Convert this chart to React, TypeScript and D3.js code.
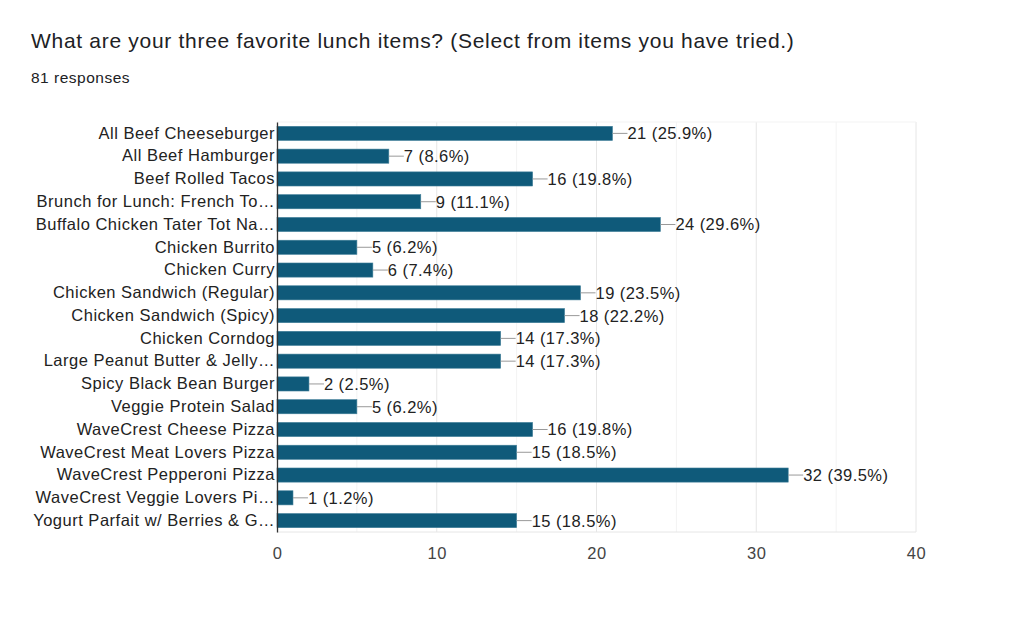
import { useEffect, useRef } from "react";
import * as d3 from "d3";

const categories = [
  "All Beef Cheeseburger",
  "All Beef Hamburger",
  "Beef Rolled Tacos",
  "Brunch for Lunch: French To…",
  "Buffalo Chicken Tater Tot Na…",
  "Chicken Burrito",
  "Chicken Curry",
  "Chicken Sandwich (Regular)",
  "Chicken Sandwich (Spicy)",
  "Chicken Corndog",
  "Large Peanut Butter & Jelly…",
  "Spicy Black Bean Burger",
  "Veggie Protein Salad",
  "WaveCrest Cheese Pizza",
  "WaveCrest Meat Lovers Pizza",
  "WaveCrest Pepperoni Pizza",
  "WaveCrest Veggie Lovers Pi…",
  "Yogurt Parfait w/ Berries & G…",
];
const counts = [21, 7, 16, 9, 24, 5, 6, 19, 18, 14, 14, 2, 5, 16, 15, 32, 1, 15];
const percents = ["25.9%", "8.6%", "19.8%", "11.1%", "29.6%", "6.2%", "7.4%", "23.5%", "22.2%", "17.3%", "17.3%", "2.5%", "6.2%", "19.8%", "18.5%", "39.5%", "1.2%", "18.5%"];
const xTicks = [0, 10, 20, 30, 40];
const minorTicks = [5, 15, 25, 35];
const title = "What are your three favorite lunch items? (Select from items you have tried.)";
const subtitle = "81 responses";

const FONT = "'Liberation Sans', Arial, sans-serif";

export default function App() {
  const ref = useRef<SVGSVGElement>(null);

  useEffect(() => {
    const svg = d3.select(ref.current);
    svg.selectAll("*").remove();

    const margin = { top: 122, right: 108, bottom: 104, left: 277 };
    const width = 1024, height = 636;
    const w = width - margin.left - margin.right;
    const h = height - margin.top - margin.bottom;

    svg.append("rect").attr("width", width).attr("height", height).attr("fill", "#fff");

    svg.append("text")
      .attr("x", 31).attr("y", 48)
      .style("font-family", FONT)
      .style("font-size", "21px")
      .style("letter-spacing", "0.7px")
      .attr("fill", "#202124")
      .text(title);

    svg.append("text")
      .attr("x", 31).attr("y", 83)
      .style("font-family", FONT)
      .style("font-size", "15.5px")
      .style("letter-spacing", "0.5px")
      .attr("fill", "#202124")
      .text(subtitle);

    const g = svg.append("g").attr("transform", `translate(${margin.left},${margin.top})`);

    const x = d3.scaleLinear().domain([0, 40]).range([0, w]);
    const y = d3.scaleBand().domain(categories).range([0, h]).paddingInner(0.38).paddingOuter(0.19);

    // grid
    g.selectAll(".minor").data(minorTicks).enter().append("line")
      .attr("x1", d => x(d)).attr("x2", d => x(d))
      .attr("y1", 0).attr("y2", h)
      .attr("stroke", "#f3f3f3").attr("stroke-width", 1);
    g.selectAll(".major").data(xTicks.slice(1)).enter().append("line")
      .attr("x1", d => x(d)).attr("x2", d => x(d))
      .attr("y1", 0).attr("y2", h)
      .attr("stroke", "#e6e6e6").attr("stroke-width", 1);
    g.append("line").attr("x1", 0).attr("x2", w).attr("y1", h).attr("y2", h)
      .attr("stroke", "#e6e6e6");
    g.append("line").attr("x1", 0).attr("x2", w).attr("y1", 0).attr("y2", 0)
      .attr("stroke", "#f3f3f3");

    const rows = categories.map((c, i) => ({ c, v: counts[i], p: percents[i] }));

    g.selectAll(".bar").data(rows).enter().append("rect")
      .attr("x", 0)
      .attr("y", d => y(d.c)!)
      .attr("width", d => x(d.v))
      .attr("height", y.bandwidth())
      .attr("fill", "#0f5a7a")
      .attr("stroke", "#3f7e98")
      .attr("stroke-width", 0.6);

    g.selectAll(".lead").data(rows).enter().append("line")
      .attr("x1", d => x(d.v)).attr("x2", d => x(d.v) + 15)
      .attr("y1", d => y(d.c)! + y.bandwidth() / 2)
      .attr("y2", d => y(d.c)! + y.bandwidth() / 2)
      .attr("stroke", "#999").attr("stroke-width", 1);

    g.selectAll(".val").data(rows).enter().append("text")
      .attr("x", d => x(d.v) + 15)
      .attr("y", d => y(d.c)! + y.bandwidth() / 2)
      .attr("dy", "0.36em")
      .style("font-family", FONT)
      .style("font-size", "16.5px")
      .style("letter-spacing", "0.45px")
      .attr("fill", "#222")
      .text(d => `${d.v} (${d.p})`);

    const yAxis = d3.axisLeft(y).tickSize(0).tickPadding(2);
    const ya = g.append("g").call(yAxis);
    ya.select(".domain").attr("stroke", "#333").attr("stroke-width", 1.3);
    ya.selectAll("text")
      .style("font-family", FONT)
      .style("font-size", "16.5px")
      .style("letter-spacing", "0.5px")
      .attr("fill", "#222");

    const xAxis = d3.axisBottom(x).tickValues(xTicks).tickSize(0).tickPadding(15);
    const xa = g.append("g").attr("transform", `translate(0,${h})`).call(xAxis);
    xa.select(".domain").remove();
    xa.selectAll("text")
      .style("font-family", FONT)
      .style("font-size", "16.5px")
      .style("letter-spacing", "0.5px")
      .attr("fill", "#444");
  }, []);

  return (
    <div style={{ margin: -8 }}>
      <svg ref={ref} width={1024} height={636} style={{ display: "block" }}></svg>
    </div>
  );
}
